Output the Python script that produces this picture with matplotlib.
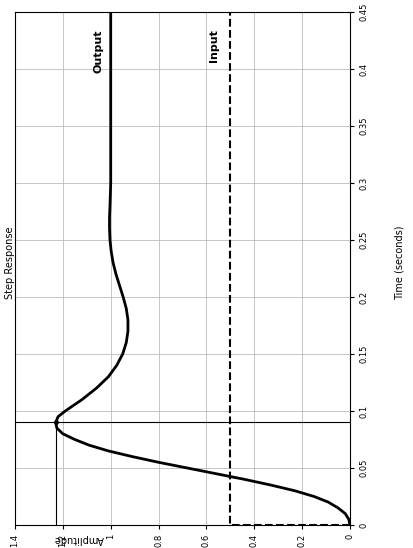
import matplotlib.pyplot as plt
import numpy as np

time = [0, 0.005, 0.01, 0.015, 0.02, 0.025, 0.03, 0.035, 0.04, 0.045, 0.05, 0.055,
        0.06, 0.065, 0.07, 0.075, 0.08, 0.085, 0.09, 0.095, 0.10, 0.105, 0.11,
        0.12, 0.13, 0.14, 0.15, 0.16, 0.17, 0.18, 0.19, 0.20, 0.21, 0.22, 0.23,
        0.24, 0.25, 0.26, 0.27, 0.28, 0.30, 0.35, 0.40, 0.45]
output = [0, 0.005, 0.02, 0.05, 0.09, 0.15, 0.23, 0.33, 0.44, 0.56, 0.68, 0.80,
          0.91, 1.01, 1.09, 1.15, 1.20, 1.225, 1.23, 1.22, 1.19, 1.155, 1.12,
          1.06, 1.01, 0.975, 0.95, 0.935, 0.928, 0.928, 0.935, 0.948, 0.963,
          0.978, 0.99, 0.998, 1.003, 1.005, 1.005, 1.003, 1.0, 1.0, 1.0, 1.0]
input_t = [0, 0, 0.45]
input_a = [0, 0.5, 0.5]
peak_t, peak_a = 0.09, 1.23

amp_ticks = [0, 0.2, 0.4, 0.6, 0.8, 1, 1.2, 1.4]
time_ticks = [0, 0.05, 0.1, 0.15, 0.2, 0.25, 0.3, 0.35, 0.4, 0.45]

fig = plt.figure(figsize=(4.14, 5.48), dpi=100)
ax = fig.add_axes([15 / 414, 23 / 548, 335 / 414, 513 / 548])

# plot is drawn turned 90 degrees: amplitude runs right-to-left, time upward
ax.plot(output, time, color='black', lw=2)
ax.plot(input_a, input_t, color='black', lw=1.5, ls='--')
ax.axhline(peak_t, color='black', lw=0.8)
ax.plot([peak_a, peak_a], [0, peak_t], color='black', lw=0.8)
ax.plot(peak_a, peak_t, 'k.', ms=5)

ax.set_xlim(1.4, 0)
ax.set_ylim(0, 0.45)
ax.set_xticks(amp_ticks)
ax.set_xticklabels([str(a) for a in amp_ticks], rotation=90, fontsize=6)
ax.set_yticks(time_ticks)
ax.set_yticklabels([str(t) for t in time_ticks], rotation=90, fontsize=6, va='center')
ax.yaxis.tick_right()
ax.grid(True, color='#bbbbbb', lw=0.6)
ax.tick_params(length=3)

fig.text(0.19, 0.008, 'Amplitude', rotation=180, fontsize=7, ha='center', va='bottom')
fig.text(0.965, 0.52, 'Time (seconds)', rotation=90, fontsize=7, ha='center', va='center')
fig.text(0.025, 0.52, 'Step Response', rotation=90, fontsize=7, ha='center', va='center')
ax.text(1.05, 0.435, 'Output', rotation=90, fontsize=8, fontweight='bold',
        ha='center', va='top')
ax.text(0.57, 0.435, 'Input', rotation=90, fontsize=8, fontweight='bold',
        ha='center', va='top')

plt.savefig('out.png', dpi=100)
